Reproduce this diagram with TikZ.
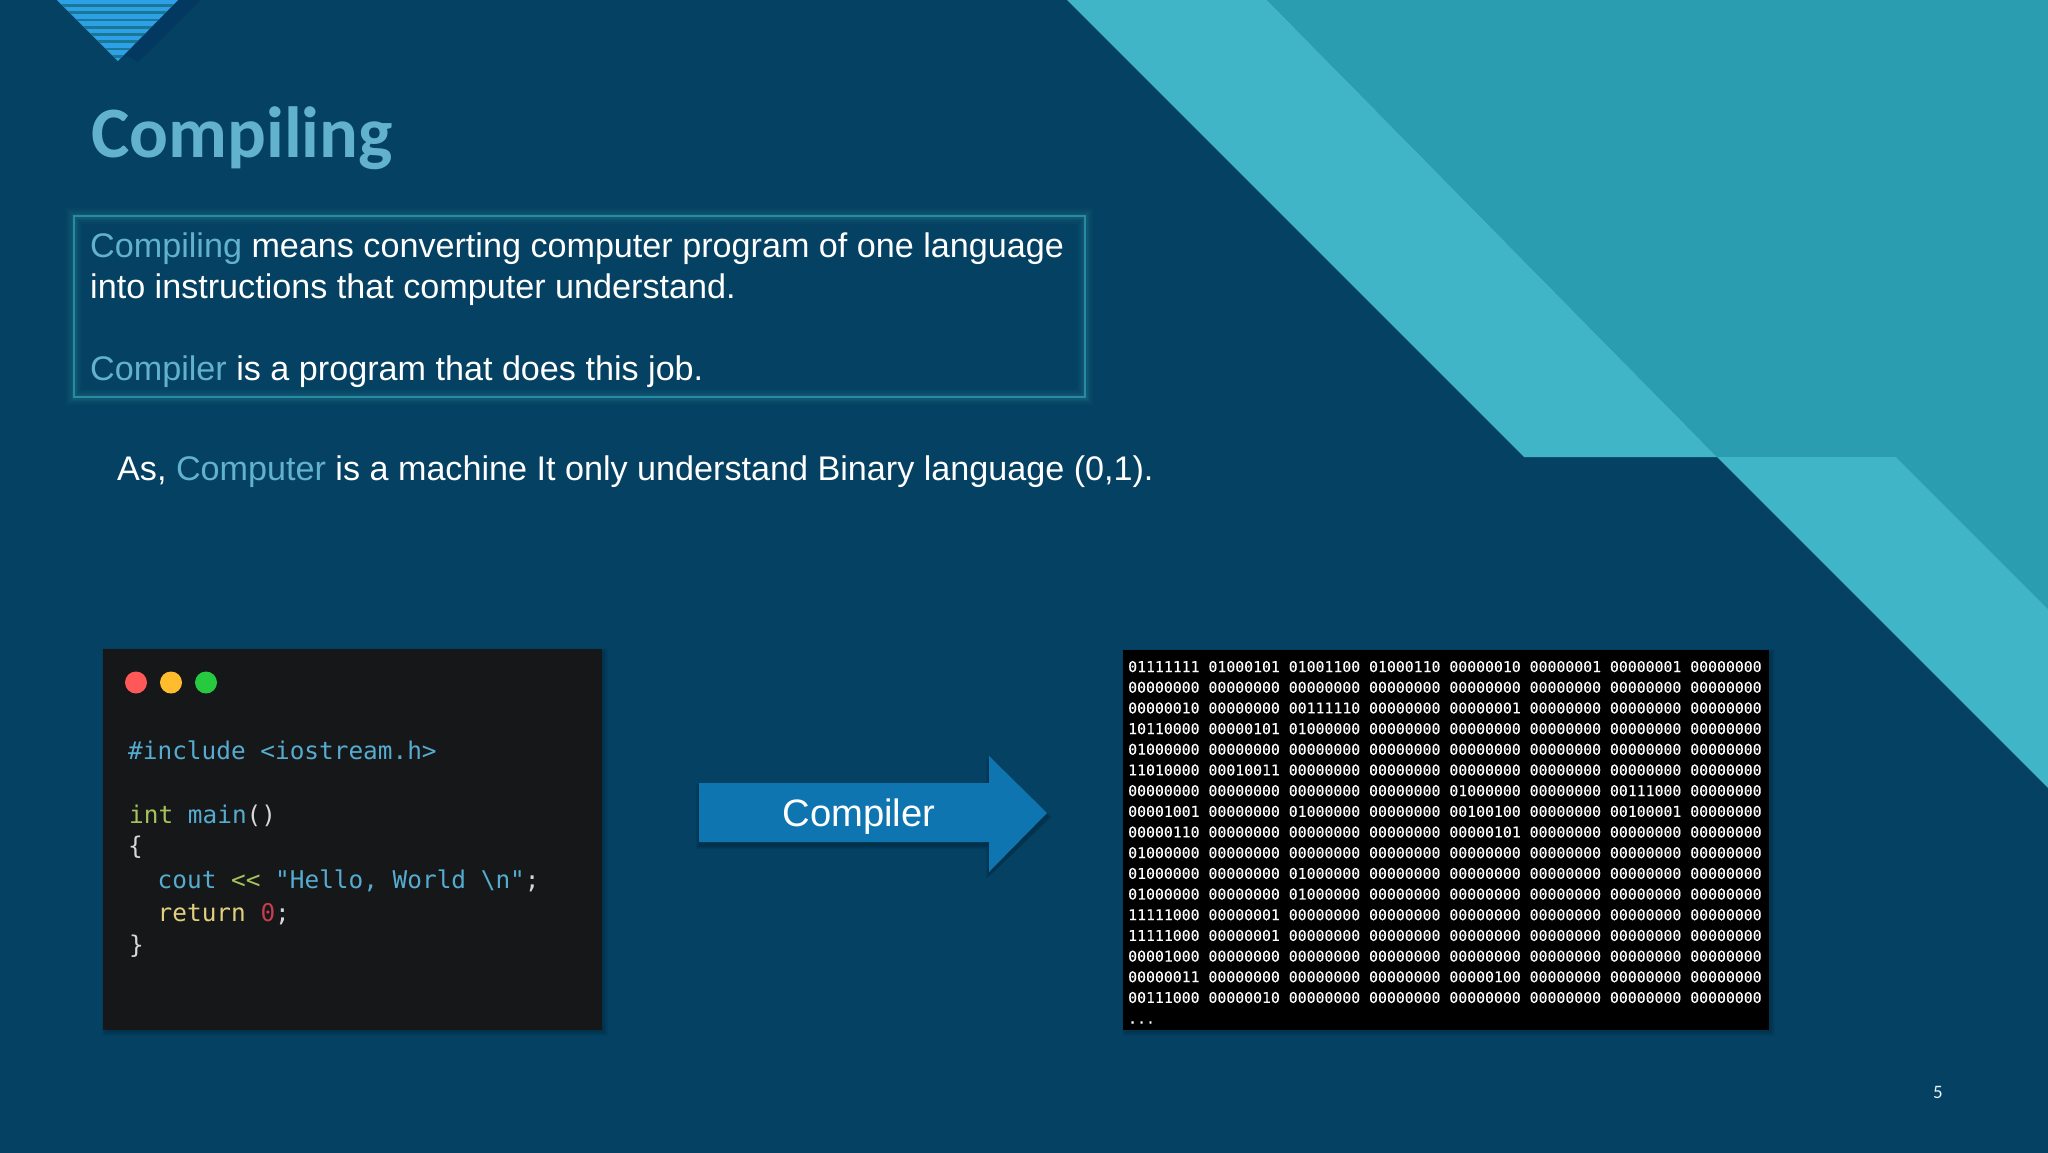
\documentclass[tikz,border=0pt]{standalone}
\usepackage{fontspec}
\setmainfont{Liberation Sans}
\newfontfamily\titlefont{Carlito}
\newfontfamily\codefont{DejaVu Sans Mono}
\newfontfamily\binfont[FakeBold=0.1]{DejaVu Sans Mono}
\usetikzlibrary{calc}
\definecolor{bgc}{RGB}{5,65,98}
\definecolor{lightband}{RGB}{64,181,200}
\definecolor{darkband}{RGB}{42,157,176}
\definecolor{accent}{RGB}{98,178,205}
\definecolor{triblue}{RGB}{46,160,232}
\definecolor{tristripe}{RGB}{24,120,150}
\definecolor{trishadow}{RGB}{3,56,97}
\definecolor{boxline}{RGB}{40,140,160}
\definecolor{arrowc}{RGB}{15,117,176}
\definecolor{codebg}{RGB}{21,23,25}
\definecolor{cblue}{RGB}{86,172,208}
\definecolor{cgreen}{RGB}{166,195,90}
\definecolor{cyellow}{RGB}{226,207,126}
\definecolor{cred}{RGB}{198,61,79}
\definecolor{cwhite}{RGB}{216,216,216}
\tikzset{
  body/.style={anchor=base west,inner sep=0pt,text=white,font=\fontsize{34.15}{40}\selectfont},
  codeline/.style={anchor=base west,inner sep=0pt,text=cwhite,font=\codefont\fontsize{24.4}{28}\selectfont},
  binline/.style={anchor=base west,inner sep=0pt,text=white,font=\binfont\fontsize{14.82}{18}\selectfont},
  lamp/.style={circle,inner sep=0pt,minimum size=22pt},
  softshade/.style={fill=black,draw=none,opacity=0.035}
}
\newcommand{\shadedrect}[4]{%
  \foreach \s in {0,1,2,3,4,5}{
    \fill[softshade] ($(#1,#2)+(4-\s,4-\s)$) rectangle ($(#3,#4)+(1+\s,1+\s)$);
  }}
\newcommand{\binrow}[2]{\node[binline] (bin#1) at (1128,{672+20.68*(#1-1)}) {#2};}
\begin{document}
\begin{tikzpicture}[x=1pt,y=-1pt]
\useasboundingbox (0,0) rectangle (2048,1152);
\fill[bgc] (-5,-5) rectangle (2053,1160);
% background bands
\fill[darkband] (1262,-5) -- (2053,-5) -- (2053,614) -- (1896,457) -- (1717,457) -- cycle;
\fill[lightband] (1062,-5) -- (1262,-5) -- (1717,457) -- (1524,457) -- cycle;
\fill[lightband] (1717,457) -- (1896,457) -- (2053,614) -- (2053,793) -- cycle;
% corner mark
\fill[trishadow] (178,0) -- (200,0) -- (138,62) -- (127,56) -- (118,61) -- cycle;
\begin{scope}
  \clip (57,0) -- (178,0) -- (118,61) -- cycle;
  \fill[triblue] (50,0) rectangle (190,70);
  \foreach \k in {0,...,7}{
    \fill[tristripe] (50,{4.2+7.25*\k}) rectangle (190,{6.8+7.25*\k});
  }
\end{scope}
% title
\node[anchor=base west,inner sep=0pt,text=accent,font=\titlefont\bfseries\fontsize{72.4}{80}\selectfont] (title) at (91,157) {Compiling};
% text box
\foreach \w/\o in {16/0.06,12/0.08,8/0.1,5/0.12}{
  \draw[boxline,line width=\w pt,opacity=\o] (74,216) rectangle (1085,397);
}
\draw[boxline,line width=1.3pt] (74,216) rectangle (1085,397);
\node[body] (l1) at (90,257) {\textcolor{accent}{Compiling} means converting computer program of one language};
\node[body] (l2) at (90,298) {into instructions that computer understand.};
\node[body] (l3) at (90,380) {\textcolor{accent}{Compiler} is a program that does this job.};
\node[body] (l4) at (117,480) {As, \textcolor{accent}{Computer} is a machine It only understand Binary language (0,1).};
% code window
\shadedrect{103}{649}{602}{1030}
\fill[codebg] (103,649) rectangle (602,1030);
\node[lamp,fill={rgb,255:red,255;green,88;blue,88}] (red) at (136,682.5) {};
\node[lamp,fill={rgb,255:red,255;green,189;blue,46}] (yellow) at (171,682.5) {};
\node[lamp,fill={rgb,255:red,39;green,201;blue,63}] (green) at (206,682.5) {};
\node[codeline,text=cblue] (c1) at (128,759) {\#include <iostream.h>};
\node[codeline] (c2) at (129,823) {\textcolor{cgreen}{int} \textcolor{cblue}{main}()};
\node[codeline] (c3) at (128,854) {\{};
\node[codeline] (c4) at (157.5,888) {\textcolor{cblue}{cout} \textcolor{cgreen}{<{}<} \textcolor{cblue}{"Hello, World \textbackslash n"};};
\node[codeline] (c5) at (157.5,921) {\textcolor{cyellow}{return} \textcolor{cred}{0};};
\node[codeline] (c6) at (129,953) {\}};
% arrow
\foreach \s/\o in {0/0.06,1/0.06,2/0.06,3/0.06}{
  \fill[black,opacity=\o] (699-\s,{787-\s}) -- (989-\s,{787-\s}) -- (989-\s,{760-\s}) -- (1049+\s,817) -- (989-\s,{876+\s}) -- (989-\s,{846+\s}) -- (699-\s,{846+\s}) -- cycle;
}
\fill[arrowc] (699,783) -- (989,783) -- (989,756) -- (1047,813) -- (989,872) -- (989,842) -- (699,842) -- cycle;
\node[anchor=center,inner sep=0pt,text=white,font=\fontsize{38.2}{44}\selectfont] (arrowlabel) at (859,817) {Compiler};
% binary window
\shadedrect{1123}{650}{1769}{1030}
\fill[black] (1123,650) rectangle (1769,1030);
\binrow{1}{01111111 01000101 01001100 01000110 00000010 00000001 00000001 00000000}
\binrow{2}{00000000 00000000 00000000 00000000 00000000 00000000 00000000 00000000}
\binrow{3}{00000010 00000000 00111110 00000000 00000001 00000000 00000000 00000000}
\binrow{4}{10110000 00000101 01000000 00000000 00000000 00000000 00000000 00000000}
\binrow{5}{01000000 00000000 00000000 00000000 00000000 00000000 00000000 00000000}
\binrow{6}{11010000 00010011 00000000 00000000 00000000 00000000 00000000 00000000}
\binrow{7}{00000000 00000000 00000000 00000000 01000000 00000000 00111000 00000000}
\binrow{8}{00001001 00000000 01000000 00000000 00100100 00000000 00100001 00000000}
\binrow{9}{00000110 00000000 00000000 00000000 00000101 00000000 00000000 00000000}
\binrow{10}{01000000 00000000 00000000 00000000 00000000 00000000 00000000 00000000}
\binrow{11}{01000000 00000000 01000000 00000000 00000000 00000000 00000000 00000000}
\binrow{12}{01000000 00000000 01000000 00000000 00000000 00000000 00000000 00000000}
\binrow{13}{11111000 00000001 00000000 00000000 00000000 00000000 00000000 00000000}
\binrow{14}{11111000 00000001 00000000 00000000 00000000 00000000 00000000 00000000}
\binrow{15}{00001000 00000000 00000000 00000000 00000000 00000000 00000000 00000000}
\binrow{16}{00000011 00000000 00000000 00000000 00000100 00000000 00000000 00000000}
\binrow{17}{00111000 00000010 00000000 00000000 00000000 00000000 00000000 00000000}
\binrow{18}{...}
% page number
\node[anchor=center,inner sep=0pt,text=white!85!accent,font=\titlefont\fontsize{19}{22}\selectfont] (pageno) at (1938,1092) {5};
\end{tikzpicture}
\end{document}
